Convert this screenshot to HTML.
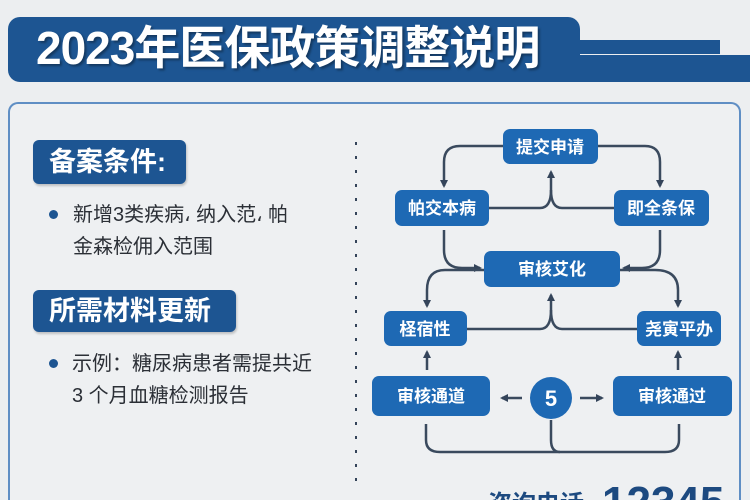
<!DOCTYPE html>
<html><head><meta charset="utf-8"><style>
html,body{margin:0;width:750px;height:500px;overflow:hidden}
body{background:#eceef0;font-family:"Liberation Sans","Noto Sans CJK SC",sans-serif;position:relative}
.a{position:absolute}
.hdr{left:8px;top:17px;width:572px;height:65px;background:#1d5592;border-radius:12px 12px 0 12px}
.t{left:36px;top:20px;color:#fff;font-size:46px;font-weight:bold;line-height:56px;text-shadow:2px 2px 2px rgba(0,0,0,.35);letter-spacing:-1px}
.panel{left:8px;top:102px;width:733px;height:398px;border:2px solid #5f8ec4;border-bottom:none;border-radius:10px 10px 0 0;background:#eef0f2;box-sizing:border-box}
.sec{background:#1d5592;color:#fff;font-weight:bold;font-size:27px;border-radius:6px;padding-left:16px;box-sizing:border-box;line-height:44px;box-shadow:1px 2px 2px rgba(0,0,0,.2)}
.txt{font-size:20px;color:#2b2f36;line-height:32px}
.dot{width:9px;height:9px;border-radius:50%;background:#1d5592}
</style></head><body>
<div class="a hdr"></div>
<div class="a" style="left:580px;top:40px;width:140px;height:14px;background:#1d5592"></div>
<div class="a" style="left:580px;top:55px;width:170px;height:27px;background:#1d5592"></div>
<div class="a t">2023年医保政策调整说明</div>
<div class="a panel"></div>
<div class="a sec" style="left:33px;top:140px;width:153px;height:44px">备案条件:</div>
<div class="a dot" style="left:49px;top:210px"></div>
<div class="a txt" style="left:73px;top:199px">新增3类疾病، 纳入范، 帕<br>金森检佣入范围</div>
<div class="a sec" style="left:33px;top:290px;width:203px;height:42px;line-height:42px">所需材料更新</div>
<div class="a dot" style="left:49px;top:359px"></div>
<div class="a txt" style="left:72px;top:348px">示例：糖尿病患者需提共近<br>3 个月血糖检测报告</div>
<svg class="a" style="left:0;top:0" width="750" height="500">
<defs><marker id="m" markerWidth="8" markerHeight="8" refX="6" refY="4" orient="auto" markerUnits="userSpaceOnUse"><path d="M0,0L8,4L0,8z" fill="#34445a"/></marker></defs>
<line x1="356" y1="142" x2="356" y2="492" stroke="#34445a" stroke-width="2" stroke-dasharray="3,11"/>
<g fill="none" stroke="#3a4a5e" stroke-width="2.5">
<path d="M503,146H460Q444,146 444,162V186" marker-end="url(#m)"/>
<path d="M598,146H645Q660,146 660,162V186" marker-end="url(#m)"/>
<path d="M489,208H540Q551,208 551,190V172" marker-end="url(#m)"/>
<path d="M614,208H562Q551,208 551,190"/>
<path d="M444,230V250Q444,268 462,268H480" marker-end="url(#m)"/>
<path d="M660,230V250Q660,268 642,268H624" marker-end="url(#m)"/>
<path d="M484,270H445Q427,270 427,290V306" marker-end="url(#m)"/>
<path d="M620,270H655Q678,270 678,290V306" marker-end="url(#m)"/>
<path d="M467,329H540Q551,329 551,310V295" marker-end="url(#m)"/>
<path d="M637,329H562Q551,329 551,310"/>
<path d="M427,370V352" marker-end="url(#m)"/>
<path d="M678,370V352" marker-end="url(#m)"/>
<path d="M522,398H502" marker-end="url(#m)"/>
<path d="M580,398H602" marker-end="url(#m)"/>
<path d="M426,424V440Q426,452 440,452H665Q679,452 679,440V424"/>
<path d="M551,420V440Q551,452 560,452"/>
</g>
<g fill="#1e69b4">
<rect x="503" y="129" width="95" height="35" rx="7"/>
<rect x="395" y="190" width="94" height="36" rx="7"/>
<rect x="614" y="190" width="95" height="36" rx="7"/>
<rect x="484" y="251" width="136" height="36" rx="7"/>
<rect x="384" y="311" width="83" height="35" rx="7"/>
<rect x="637" y="311" width="84" height="35" rx="7"/>
<rect x="372" y="376" width="118" height="40" rx="7"/>
<rect x="613" y="376" width="119" height="40" rx="7"/>
<circle cx="551" cy="398" r="21"/>
</g>
<g fill="#fff" font-family="Liberation Sans,Noto Sans CJK SC,sans-serif" font-weight="bold" font-size="17" text-anchor="middle">
<text x="550" y="153">提交申请</text>
<text x="442" y="214">帕交本病</text>
<text x="661" y="214">即全条保</text>
<text x="552" y="275">审核艾化</text>
<text x="425" y="335">柽宿性</text>
<text x="679" y="335">尧寅平办</text>
<text x="431" y="402">审核通道</text>
<text x="672" y="402">审核通过</text>
<text x="551" y="406" font-size="22">5</text>
</g>
<text x="488" y="512" font-family="Liberation Sans,Noto Sans CJK SC,sans-serif" font-weight="bold" font-size="24" fill="#1d4a80">咨询电话</text>
<text x="602" y="517" font-family="Liberation Sans,sans-serif" font-weight="bold" font-size="44" fill="#1d4a80">12345</text>
</svg>
</body></html>
